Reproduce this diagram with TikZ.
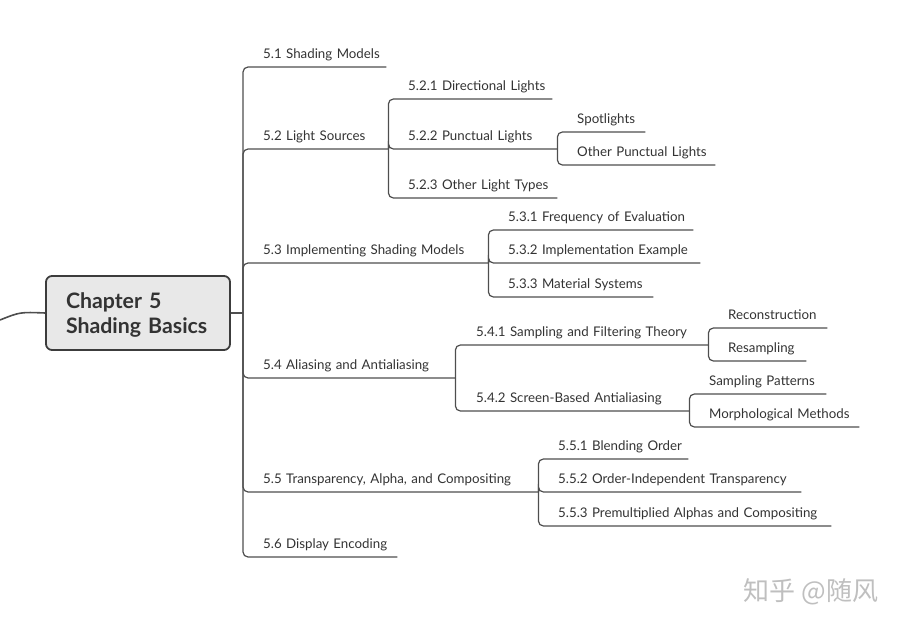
\documentclass[tikz,border=0pt]{standalone}
\usepackage{fontspec}
\setmainfont{Lato}
\newfontfamily\cjkfont{Noto Sans CJK SC}
\definecolor{linecol}{HTML}{4E4E4E}
\definecolor{txtcol}{HTML}{333333}
\definecolor{rootfill}{HTML}{E8E8E8}
\definecolor{rootline}{HTML}{3C3C3C}
\tikzset{
  topic/.style={font=\fontsize{13.3}{15}\selectfont, text=txtcol, inner xsep=0pt, inner ysep=0pt,
    anchor=south west, text height=10pt, text depth=8.5pt, align=left,
    execute at begin node={\hbox\bgroup}, execute at end node={\egroup}},
  link/.style={draw=linecol, line width=1.2pt, rounded corners=5pt},
  rootbox/.style={draw=rootline, line width=1.8pt, fill=rootfill, rounded corners=6pt,
    text=txtcol, font=\fontsize{21.3}{25}\selectfont\bfseries, align=left,
    text width=144pt, inner xsep=20pt, minimum height=74pt},
}
\begin{document}
\begin{tikzpicture}[x=1pt,y=-1pt]
\useasboundingbox (0,0) rectangle (905,628);
% root
\node[rootbox] (root) at (138,313) {\rule{0pt}{20pt}Chapter 5\\Shading Basics};
\coordinate (lc) at (0,320);
\coordinate (j0) at (243,313);
\draw[link, line width=1.6pt] (lc) .. controls (20,312) .. (root.west);
\draw[link] (root.east) -- (j0);
% level 1
\node[topic, text width=123pt] (n51) at (263,67) {5.1 Shading Models};
\node[topic, text width=125pt] (n52) at (263,149) {5.2 Light Sources};
\node[topic, text width=225pt] (n53) at (263,263) {5.3 Implementing Shading Models};
\node[topic, text width=192pt] (n54) at (263,378) {5.4 Aliasing and Antialiasing};
\node[topic, text width=275pt] (n55) at (263,492) {5.5 Transparency, Alpha, and Compositing};
\node[topic, text width=134pt] (n56) at (263,557) {5.6 Display Encoding};
\foreach \n in {n51,n52,n53,n54,n55,n56}{\draw[link] (j0) |- (\n.south east);}
% 5.2
\node[topic, text width=144pt] (n521) at (408,99) {5.2.1 Directional Lights};
\node[topic, text width=149pt] (n522) at (408,149) {5.2.2 Punctual Lights};
\node[topic, text width=149pt] (n523) at (408,198) {5.2.3 Other Light Types};
\foreach \n in {n521,n522,n523}{\draw[link] (n52.south east) |- (\n.south east);}
\node[topic, text width=68pt] (s1) at (577,132) {Spotlights};
\node[topic, text width=138pt] (s2) at (577,165) {Other Punctual Lights};
\foreach \n in {s1,s2}{\draw[link] (n522.south east) |- (\n.south east);}
% 5.3
\node[topic, text width=185pt] (n531) at (508,230) {5.3.1 Frequency of Evaluation};
\node[topic, text width=192pt] (n532) at (508,263) {5.3.2 Implementation Example};
\node[topic, text width=145pt] (n533) at (508,297) {5.3.3 Material Systems};
\foreach \n in {n531,n532,n533}{\draw[link] (n53.south east) |- (\n.south east);}
% 5.4
\node[topic, text width=232pt] (n541) at (476,345) {5.4.1 Sampling and Filtering Theory};
\node[topic, text width=213pt] (n542) at (476,411) {5.4.2 Screen-Based Antialiasing};
\foreach \n in {n541,n542}{\draw[link] (n54.south east) |- (\n.south east);}
\node[topic, text width=99pt] (r1) at (728,328) {Reconstruction};
\node[topic, text width=78pt] (r2) at (728,361) {Resampling};
\foreach \n in {r1,r2}{\draw[link] (n541.south east) |- (\n.south east);}
\node[topic, text width=117pt] (p1) at (709,394) {Sampling Patterns};
\node[topic, text width=150pt] (p2) at (709,427) {Morphological Methods};
\foreach \n in {p1,p2}{\draw[link] (n542.south east) |- (\n.south east);}
% 5.5
\node[topic, text width=130pt] (n551) at (558,459) {5.5.1 Blending Order};
\node[topic, text width=243pt] (n552) at (558,492) {5.5.2 Order-Independent Transparency};
\node[topic, text width=273pt] (n553) at (558,526) {5.5.3 Premultiplied Alphas and Compositing};
\foreach \n in {n551,n552,n553}{\draw[link] (n55.south east) |- (\n.south east);}
% watermark
\node[font=\cjkfont\fontsize{26}{28}\selectfont, text=black!25, inner sep=0pt] (wm) at (811,592) {知乎 @随风};
\end{tikzpicture}
\end{document}
